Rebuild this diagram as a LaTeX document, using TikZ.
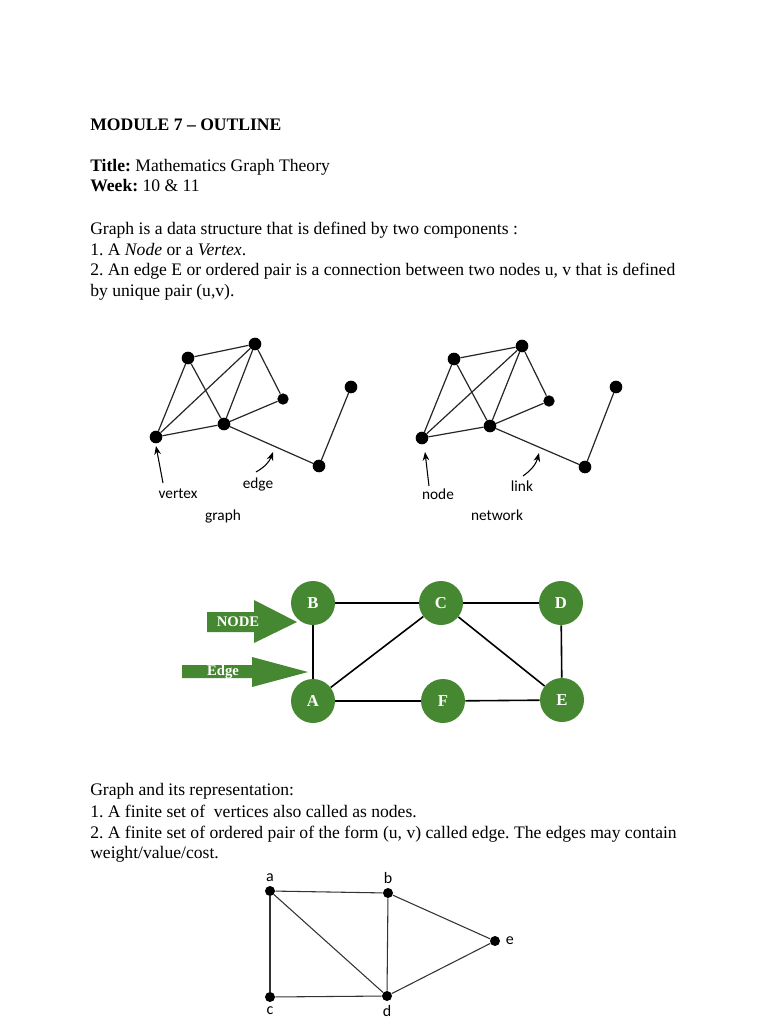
\documentclass[tikz,border=0pt]{standalone}
\usepackage{fontspec}
\setmainfont{Liberation Serif}
\newfontfamily\labelfont{Carlito}
\usetikzlibrary{positioning,arrows.meta}
\definecolor{leafgreen}{RGB}{70,136,50}
\frenchspacing

\begin{document}
\begin{tikzpicture}[
    x=0.75pt, y=-0.75pt,
    node font=\fontsize{13.2}{15}\selectfont,
    bodytext/.style={anchor=base west, inner sep=0pt},
    dot/.style={circle, fill=black, inner sep=0pt, minimum size=9.5pt},
    smalldot/.style={circle, fill=black, inner sep=0pt, minimum size=7.5pt},
    link/.style={draw, line width=0.9pt, black!85},
    thinlink/.style={draw, line width=0.8pt, black!80},
    pointer/.style={draw, -{Stealth[length=6.5pt,width=5pt]}, line width=0.8pt},
    tag/.style={font=\labelfont\fontsize{11.5}{13}\selectfont, inner sep=1pt},
    vlabel/.style={font=\labelfont\fontsize{12}{14}\selectfont, inner sep=0pt},
    greennode/.style={circle, fill=leafgreen, minimum size=33pt, inner sep=0pt, text=white, font=\bfseries\fontsize{12.5}{14}\selectfont},
    greenlink/.style={draw, line width=1.2pt},
    arrowtext/.style={text=white, font=\bfseries\fontsize{11}{13}\selectfont, inner sep=0pt}
]

\useasboundingbox (0,0) rectangle (768,1024);

\node[bodytext] (heading) at (90,130) {\textbf{MODULE 7 -- OUTLINE}};
\node[bodytext] (title) at (90,171) {\textbf{Title:} Mathematics Graph Theory};
\node[bodytext] (week) at (90,191) {\textbf{Week:} 10 \& 11};
\node[bodytext] (intro) at (90,234) {Graph is a data structure that is defined by two components :};
\node[bodytext] (pointone) at (90,255) {1. A \textit{Node} or a \textit{Vertex}.};
\node[bodytext] (pointtwo) at (90,275) {2. An edge E or ordered pair is a connection between two nodes u, v that is defined};
\node[bodytext] (pointtwob) at (90,296) {by unique pair (u,v).};

\node[dot] (g1) at (188,358) {};
\node[dot] (g2) at (255,344) {};
\node[dot, minimum size=8.5pt] (g3) at (283,399) {};
\node[dot] (g4) at (224,424) {};
\node[dot] (g5) at (156,437) {};
\node[dot] (g6) at (319,466) {};
\node[dot] (g7) at (351,387) {};
\foreach \a/\b in {g1/g2, g1/g5, g1/g4, g2/g5, g2/g4, g2/g3, g3/g4, g4/g5, g4/g6, g6/g7}
    \draw[link] (\a) -- (\b);

\node[tag] (vertexlbl) at (178,494) {vertex};
\node[tag] (edgelbl) at (258,484) {edge};
\node[tag] (graphlbl) at (223,516) {graph};
\coordinate (vtail) at (163,483);
\coordinate (vtip) at (156,446);
\coordinate (etail) at (256,472);
\coordinate (etip) at (273,452);
\draw[pointer] (vtail) -- (vtip);
\draw[pointer] (etail) to[bend right=20] (etip);

\node[dot] (n1) at (454,359) {};
\node[dot] (n2) at (522,346) {};
\node[dot, minimum size=8.5pt] (n3) at (549,401) {};
\node[dot] (n4) at (490,426) {};
\node[dot] (n5) at (422,438) {};
\node[dot] (n6) at (585,467) {};
\node[dot] (n7) at (616,387) {};
\foreach \a/\b in {n1/n2, n1/n5, n1/n4, n2/n5, n2/n4, n2/n3, n3/n4, n4/n5, n4/n6, n6/n7}
    \draw[link] (\a) -- (\b);

\node[tag] (nodelbl) at (438,494) {node};
\node[tag] (linklbl) at (522,486) {link};
\node[tag] (networklbl) at (497,515) {network};
\coordinate (ntail) at (429,486);
\coordinate (ntip) at (425,452);
\coordinate (ltail) at (523,476);
\coordinate (ltip) at (539,453);
\draw[pointer] (ntail) -- (ntip);
\draw[pointer] (ltail) to[bend right=20] (ltip);

\node[greennode] (B) at (313,603) {B};
\node[greennode] (C) at (441,603) {C};
\node[greennode] (D) at (561,603) {D};
\node[greennode] (A) at (313,701) {A};
\node[greennode] (F) at (443,701) {F};
\node[greennode] (E) at (562,700) {E};
\foreach \a/\b in {B/C, C/D, B/A, A/C, A/F, F/E, C/E, D/E}
    \draw[greenlink] (\a) -- (\b);

\fill[leafgreen] (207,612) -- (254,612) -- (254,600) -- (297,622) -- (254,643) -- (254,632) -- (207,632) -- cycle;
\fill[leafgreen] (182,665) -- (252,665) -- (252,657) -- (308,672) -- (252,687) -- (252,678) -- (182,678) -- cycle;
\node[arrowtext] (nodetag) at (238,622) {NODE};
\node[arrowtext] (edgetag) at (223,672) {Edge};

\node[bodytext] (reptitle) at (90,795) {Graph and its representation:};
\node[bodytext] (repone) at (90,817) {1. A finite set of~ vertices also called as nodes.};
\node[bodytext] (reptwo) at (90,838) {2. A finite set of ordered pair of the form (u, v) called edge. The edges may contain};
\node[bodytext] (reptwob) at (90,858) {weight/value/cost.};

\node[smalldot] (a) at (270,891) {};
\node[smalldot] (b) at (388,893) {};
\node[smalldot] (e) at (495,941) {};
\node[smalldot] (c) at (270,997) {};
\node[smalldot] (d) at (387,996) {};
\foreach \a/\b in {a/b, a/c, a/d, b/d, c/d, b/e, d/e}
    \draw[thinlink] (\a) -- (\b);

\node[vlabel, above=3pt of a] (alabel) {a};
\node[vlabel, above=3pt of b] (blabel) {b};
\node[vlabel, right=4pt of e] (elabel) {e};
\node[vlabel, below=3pt of c] (clabel) {c};
\node[vlabel, below=3pt of d] (dlabel) {d};

\end{tikzpicture}
\end{document}
